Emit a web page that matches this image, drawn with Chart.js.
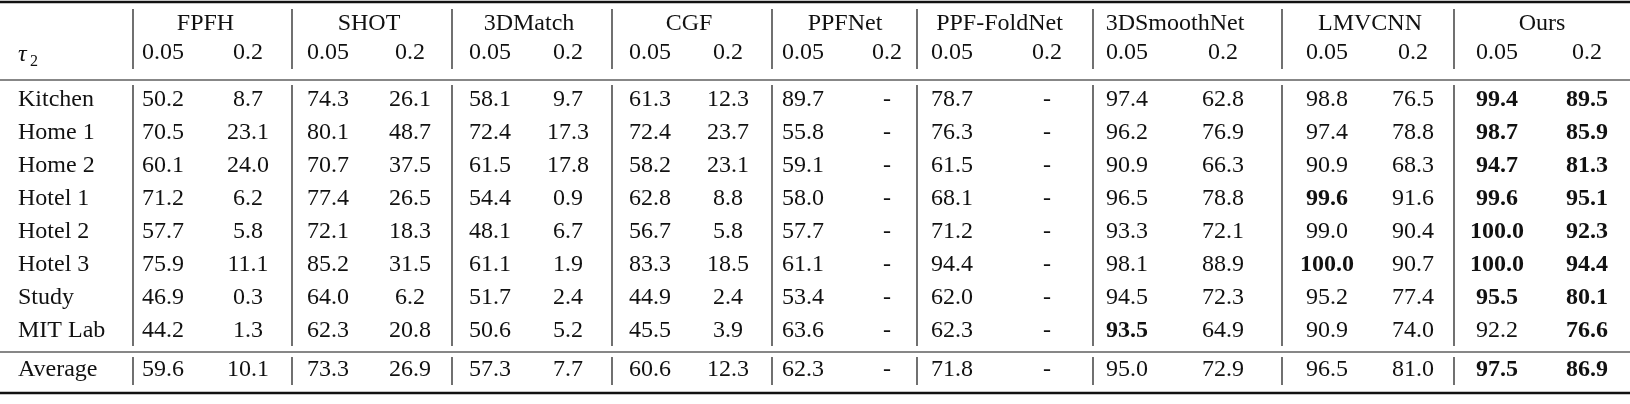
<!DOCTYPE html>
<html>
<head>
<meta charset="utf-8">
<script src="https://cdn.jsdelivr.net/npm/chart.js@4"></script>
<style>
html,body{margin:0;padding:0;background:#fff}
#wrap{width:1630px;height:404px}
</style>
</head>
<body>
<div id="wrap"><canvas id="tabla"></canvas></div>
<script>
// datos de la tabla
const metodos = ["FPFH","SHOT","3DMatch","CGF","PPFNet","PPF-FoldNet","3DSmoothNet","LMVCNN","Ours"];
const umbrales = ["0.05","0.2"];
const escenas = ["Kitchen","Home 1","Home 2","Hotel 1","Hotel 2","Hotel 3","Study","MIT Lab","Average"];
const valores = [
  ["50.2","8.7","74.3","26.1","58.1","9.7","61.3","12.3","89.7","-","78.7","-","97.4","62.8","98.8","76.5","99.4","89.5"],
  ["70.5","23.1","80.1","48.7","72.4","17.3","72.4","23.7","55.8","-","76.3","-","96.2","76.9","97.4","78.8","98.7","85.9"],
  ["60.1","24.0","70.7","37.5","61.5","17.8","58.2","23.1","59.1","-","61.5","-","90.9","66.3","90.9","68.3","94.7","81.3"],
  ["71.2","6.2","77.4","26.5","54.4","0.9","62.8","8.8","58.0","-","68.1","-","96.5","78.8","99.6","91.6","99.6","95.1"],
  ["57.7","5.8","72.1","18.3","48.1","6.7","56.7","5.8","57.7","-","71.2","-","93.3","72.1","99.0","90.4","100.0","92.3"],
  ["75.9","11.1","85.2","31.5","61.1","1.9","83.3","18.5","61.1","-","94.4","-","98.1","88.9","100.0","90.7","100.0","94.4"],
  ["46.9","0.3","64.0","6.2","51.7","2.4","44.9","2.4","53.4","-","62.0","-","94.5","72.3","95.2","77.4","95.5","80.1"],
  ["44.2","1.3","62.3","20.8","50.6","5.2","45.5","3.9","63.6","-","62.3","-","93.5","64.9","90.9","74.0","92.2","76.6"],
  ["59.6","10.1","73.3","26.9","57.3","7.7","60.6","12.3","62.3","-","71.8","-","95.0","72.9","96.5","81.0","97.5","86.9"]
];
// celdas en negrita [fila, columna]
const negritas = [[0,16],[0,17],[1,16],[1,17],[2,16],[2,17],[3,14],[3,16],[3,17],[4,16],[4,17],
  [5,14],[5,16],[5,17],[6,16],[6,17],[7,12],[7,17],[8,16],[8,17]];

// posiciones de columnas y filas (coordenadas de la escala)
const colX = [163,248,328,410,490,568,650,728,803,887,952,1047,1127,1223,1327,1413,1497,1587];
const sepX = [133,292,452,612,772,917,1093,1282,1454];
const filaY = [100,133,166,199,232,265,298,331,370];

const esNegrita = (f,c) => negritas.some(n => n[0]==f && n[1]==c);
const celdas = [];
valores.forEach((fila,f) => fila.forEach((v,c) => celdas.push({x:colX[c], y:filaY[f], t:v, b:esNegrita(f,c)})));

const fuente = '"Liberation Serif", "DejaVu Serif", serif';

const dibujarTabla = {
  id: "dibujarTabla",
  afterDatasetsDraw(chart) {
    const ctx = chart.ctx, sx = chart.scales.x, sy = chart.scales.y;
    const X = v => sx.getPixelForValue(v), Y = v => sy.getPixelForValue(v);
    ctx.save();
    ctx.fillStyle = "#111";
    ctx.textBaseline = "middle";
    // celdas
    ctx.textAlign = "center";
    chart.data.datasets[0].data.forEach(d => {
      ctx.font = (d.b ? "bold " : "") + "24px " + fuente;
      ctx.fillText(d.t, X(d.x), Y(d.y));
    });
    // encabezados
    ctx.font = "24px " + fuente;
    metodos.forEach((m,i) => ctx.fillText(m, X((colX[2*i]+colX[2*i+1])/2), Y(24)));
    colX.forEach((x,i) => ctx.fillText(umbrales[i%2], X(x), Y(53)));
    ctx.textAlign = "left";
    escenas.forEach((e,i) => ctx.fillText(e, X(18), Y(filaY[i])));
    ctx.font = "italic 24px " + fuente;
    ctx.fillText("\u03c4", X(18), Y(55));
    ctx.font = "16px " + fuente;
    ctx.fillText("2", X(30), Y(62));
    // lineas
    ctx.strokeStyle = "#111";
    const linea = (x1,y1,x2,y2,w) => { ctx.lineWidth = w; ctx.beginPath(); ctx.moveTo(X(x1),Y(y1)); ctx.lineTo(X(x2),Y(y2)); ctx.stroke(); };
    linea(0,2,1630,2,2.5);
    linea(0,80,1630,80,1.2);
    linea(0,352,1630,352,1.2);
    linea(0,393,1630,393,2.5);
    sepX.forEach(x => { linea(x,9,x,69,1.2); linea(x,85,x,346,1.2); linea(x,357,x,385,1.2); });
    ctx.restore();
  }
};

new Chart(document.getElementById("tabla"), {
  type: "scatter",
  data: { datasets: [{ data: celdas, pointRadius: 0, pointHoverRadius: 0 }] },
  options: {
    responsive: true, maintainAspectRatio: false, animation: false,
    layout: { padding: 0 },
    plugins: { legend: { display: false }, tooltip: { enabled: false } },
    scales: {
      x: { type: "linear", min: 0, max: 1630, display: false },
      y: { type: "linear", min: 0, max: 404, reverse: true, display: false }
    }
  },
  plugins: [dibujarTabla]
});
</script>
</body>
</html>
